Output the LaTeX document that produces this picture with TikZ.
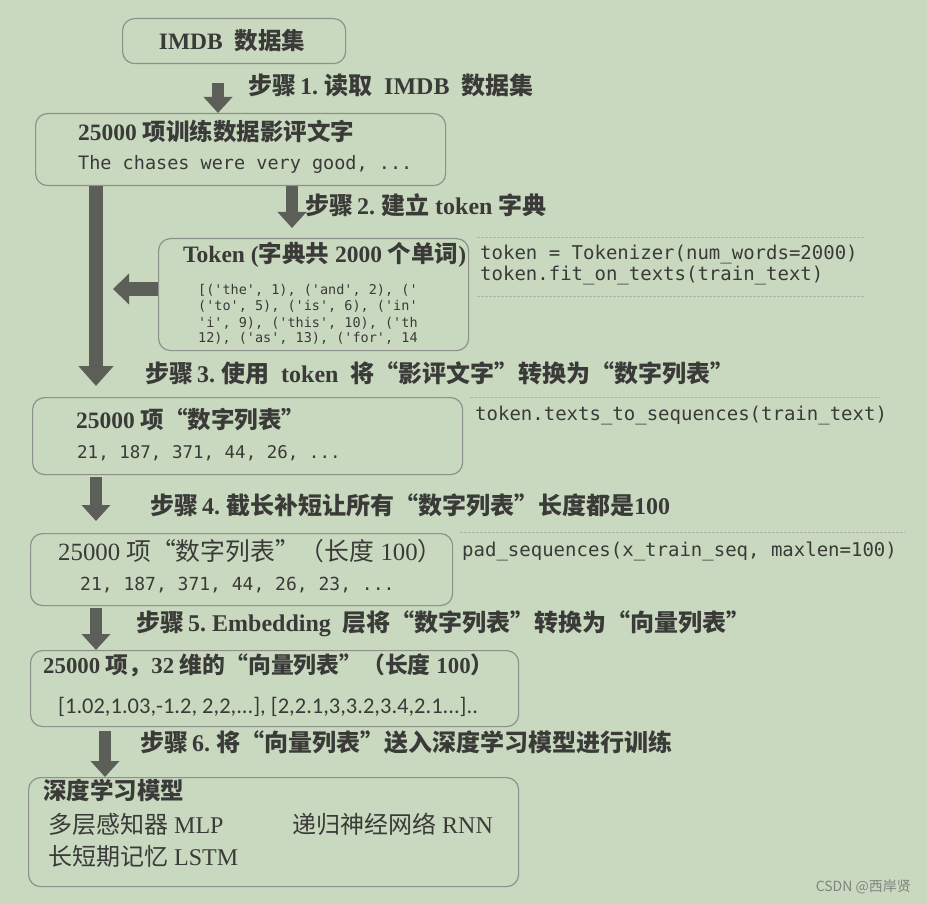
\documentclass[tikz,border=0pt]{standalone}
\usepackage{fontspec}
\setmainfont{Liberation Serif}
\setmonofont{DejaVu Sans Mono}
\newfontfamily\cjk{Noto Sans CJK SC}
\newfontfamily\cali{Carlito}
\usetikzlibrary{arrows.meta}
\definecolor{bg}{HTML}{C9D9BF}
\definecolor{ink}{HTML}{3A3B38}
\definecolor{arr}{HTML}{5C5E58}
\definecolor{frame}{HTML}{8E9189}
\definecolor{wm}{HTML}{7F857D}
\newcommand\zh[1]{{\cjk #1}}
\newcommand\qopen{{\cjk “}}
\newcommand\qclose{{\cjk ”}}
\begin{document}
\begin{tikzpicture}[x=1pt,y=-1pt,
  box/.style={draw=frame, line width=1.2pt, rounded corners=12pt, inner sep=0pt, anchor=north west},
  fat/.style={draw=arr, line width=12pt, -{Triangle[width=28pt,length=16pt]}},
  fatL/.style={draw=arr, line width=14pt, -{Triangle[width=34pt,length=20pt]}},
  fatH/.style={draw=arr, line width=14pt, -{Triangle[width=30pt,length=16pt]}},
  lab/.style={anchor=west, inner sep=0pt, text=ink, font=\fontsize{24}{26}\selectfont\bfseries},
  ttl/.style={anchor=west, inner sep=0pt, text=ink, font=\fontsize{23.5}{26}\selectfont\bfseries},
  txt/.style={anchor=west, inner sep=0pt, text=ink, font=\fontsize{24}{26}\selectfont},
  code/.style={anchor=west, inner sep=0pt, text=ink, font=\fontsize{19}{22}\ttfamily},
  small/.style={anchor=west, inner sep=0pt, text=ink, font=\fontsize{13.5}{16}\ttfamily},
  rule/.style={draw=frame!70, line width=0.8pt, dash pattern=on 3pt off 1pt}]
\fill[bg] (0,0) rectangle (927,904);
\useasboundingbox (0,0) rectangle (927,904);

% boxes
\node[box, minimum width=223pt, minimum height=45pt] (b1) at (122,18) {};
\node[box, minimum width=410pt, minimum height=72pt] (b2) at (35,113) {};
\node[box, minimum width=310pt, minimum height=112pt] (b3) at (158,238) {};
\node[box, minimum width=430pt, minimum height=77pt] (b4) at (32,397) {};
\node[box, minimum width=422pt, minimum height=72pt] (b5) at (30,533) {};
\node[box, minimum width=488pt, minimum height=76pt] (b6) at (30,650) {};
\node[box, minimum width=490pt, minimum height=109pt] (b7) at (28,777) {};

% texts in boxes
\node[ttl, anchor=center] (t1) at (232,41) {IMDB\ \ \zh{数据集}};
\node[ttl] (t2) at (78,131) {25000 \zh{项训练数据影评文字}};
\node[code, font=\fontsize{18.5}{22}\ttfamily] (t2c) at (78,164) {The chases were very good, ...};
\node[ttl] (t3) at (183,255) {Token (\zh{字典共} 2000 \zh{个单词})};
\node[small] (t3a) at (198,290) {[('the', 1), ('and', 2), ('};
\node[small] (t3b) at (198,306) {('to', 5), ('is', 6), ('in'};
\node[small] (t3c) at (198,323) {'i', 9), ('this', 10), ('th};
\node[small] (t3d) at (198,338) {12), ('as', 13), ('for', 14};
\node[ttl] (t4) at (76,420) {25000 \zh{项}\qopen\zh{数字列表}\qclose};
\node[code, font=\fontsize{17.5}{22}\ttfamily] (t4c) at (77,453) {21, 187, 371, 44, 26, ...};
\node[txt, font=\fontsize{24.8}{26}\selectfont] (t5) at (58,551) {25000 \zh{项}\qopen\zh{数字列表}\qclose\zh{（长度} 100\zh{）}};
\node[code, font=\fontsize{18}{22}\ttfamily] (t5c) at (80,585) {21, 187, 371, 44, 26, 23, ...};
\node[ttl, font=\fontsize{22.8}{26}\selectfont\bfseries] (t6) at (43,665) {25000 \zh{项，}32 \zh{维的}\qopen\zh{向量列表}\qclose\zh{（长度} 100\zh{）}};
\node[txt, font=\fontsize{22.5}{26}\cali] (t6c) at (58,707) {[1.02,1.03,-1.2, 2,2,...], [2,2.1,3,3.2,3.4,2.1...]..};
\node[ttl] (t7) at (43,790) {\zh{深度学习模型}};
\node[txt] (t7a) at (48,824) {\zh{多层感知器} MLP};
\node[txt] (t7b) at (292,824) {\zh{递归神经网络} RNN};
\node[txt] (t7c) at (48,856) {\zh{长短期记忆} LSTM};

% code beside boxes
\draw[rule] (477,237) -- (865,237);
\draw[rule] (477,296) -- (865,296);
\node[code] (c1) at (480,255) {token = Tokenizer(num\_words=2000)};
\node[code] (c2) at (480,276) {token.fit\_on\_texts(train\_text)};
\draw[rule] (470,397) -- (880,397);
\node[code] (c3) at (475,416) {token.texts\_to\_sequences(train\_text)};
\draw[rule] (460,532) -- (905,532);
\node[code] (c4) at (462,551) {pad\_sequences(x\_train\_seq, maxlen=100)};

% step labels
\node[lab] (s1) at (248,85) {\zh{步骤}\,1.\ \zh{读取}\ \ IMDB\ \ \zh{数据集}};
\node[lab] (s2) at (305,205) {\zh{步骤}\,2.\ \zh{建立} token \zh{字典}};
\node[lab] (s3) at (145,373) {\zh{步骤}\,3.\ \zh{使用}\ \ token\ \ \zh{将}\qopen\zh{影评文字}\qclose\zh{转换为}\qopen\zh{数字列表}\qclose};
\node[lab] (s4) at (150,505) {\zh{步骤}\,4.\ \zh{截长补短让所有}\qopen\zh{数字列表}\qclose\zh{长度都是}100};
\node[lab] (s5) at (136,624) {\zh{步骤}\,5.\ Embedding\ \ \zh{层将}\qopen\zh{数字列表}\qclose\zh{转换为}\qopen\zh{向量列表}\qclose};
\node[lab] (s6) at (140,742) {\zh{步骤}\,6.\ \zh{将}\qopen\zh{向量列表}\qclose\zh{送入深度学习模型进行训练}};

% watermark
\node[anchor=east, inner sep=0pt, text=wm, font=\fontsize{14}{16}\cjk] (wmk) at (911,887) {CSDN @西岸贤};

% arrows
\coordinate (a1) at (218,83);
\coordinate (x292) at (292,0);
\coordinate (x96) at (96,0);
\coordinate (x105) at (105,0);
\coordinate (lt) at (113,289);
\draw[fat] (a1) -- (b2.north -| a1);
\draw[fat, shorten >=10pt] (b2.south -| x292) -- (b3.north -| x292);
\draw[fatL, shorten >=11pt] (b2.south -| x96) -- (b4.north -| x96);
\draw[fatH] (lt -| b3.west) -- (lt);
\draw[fat, shorten >=12pt, shorten <=2pt] (b4.south -| x96) -- (b5.north -| x96);
\draw[fat, shorten <=2pt] (b5.south -| x96) -- (b6.north -| x96);
\draw[fat, shorten <=4pt] (b6.south -| x105) -- (b7.north -| x105);
\end{tikzpicture}
\end{document}
